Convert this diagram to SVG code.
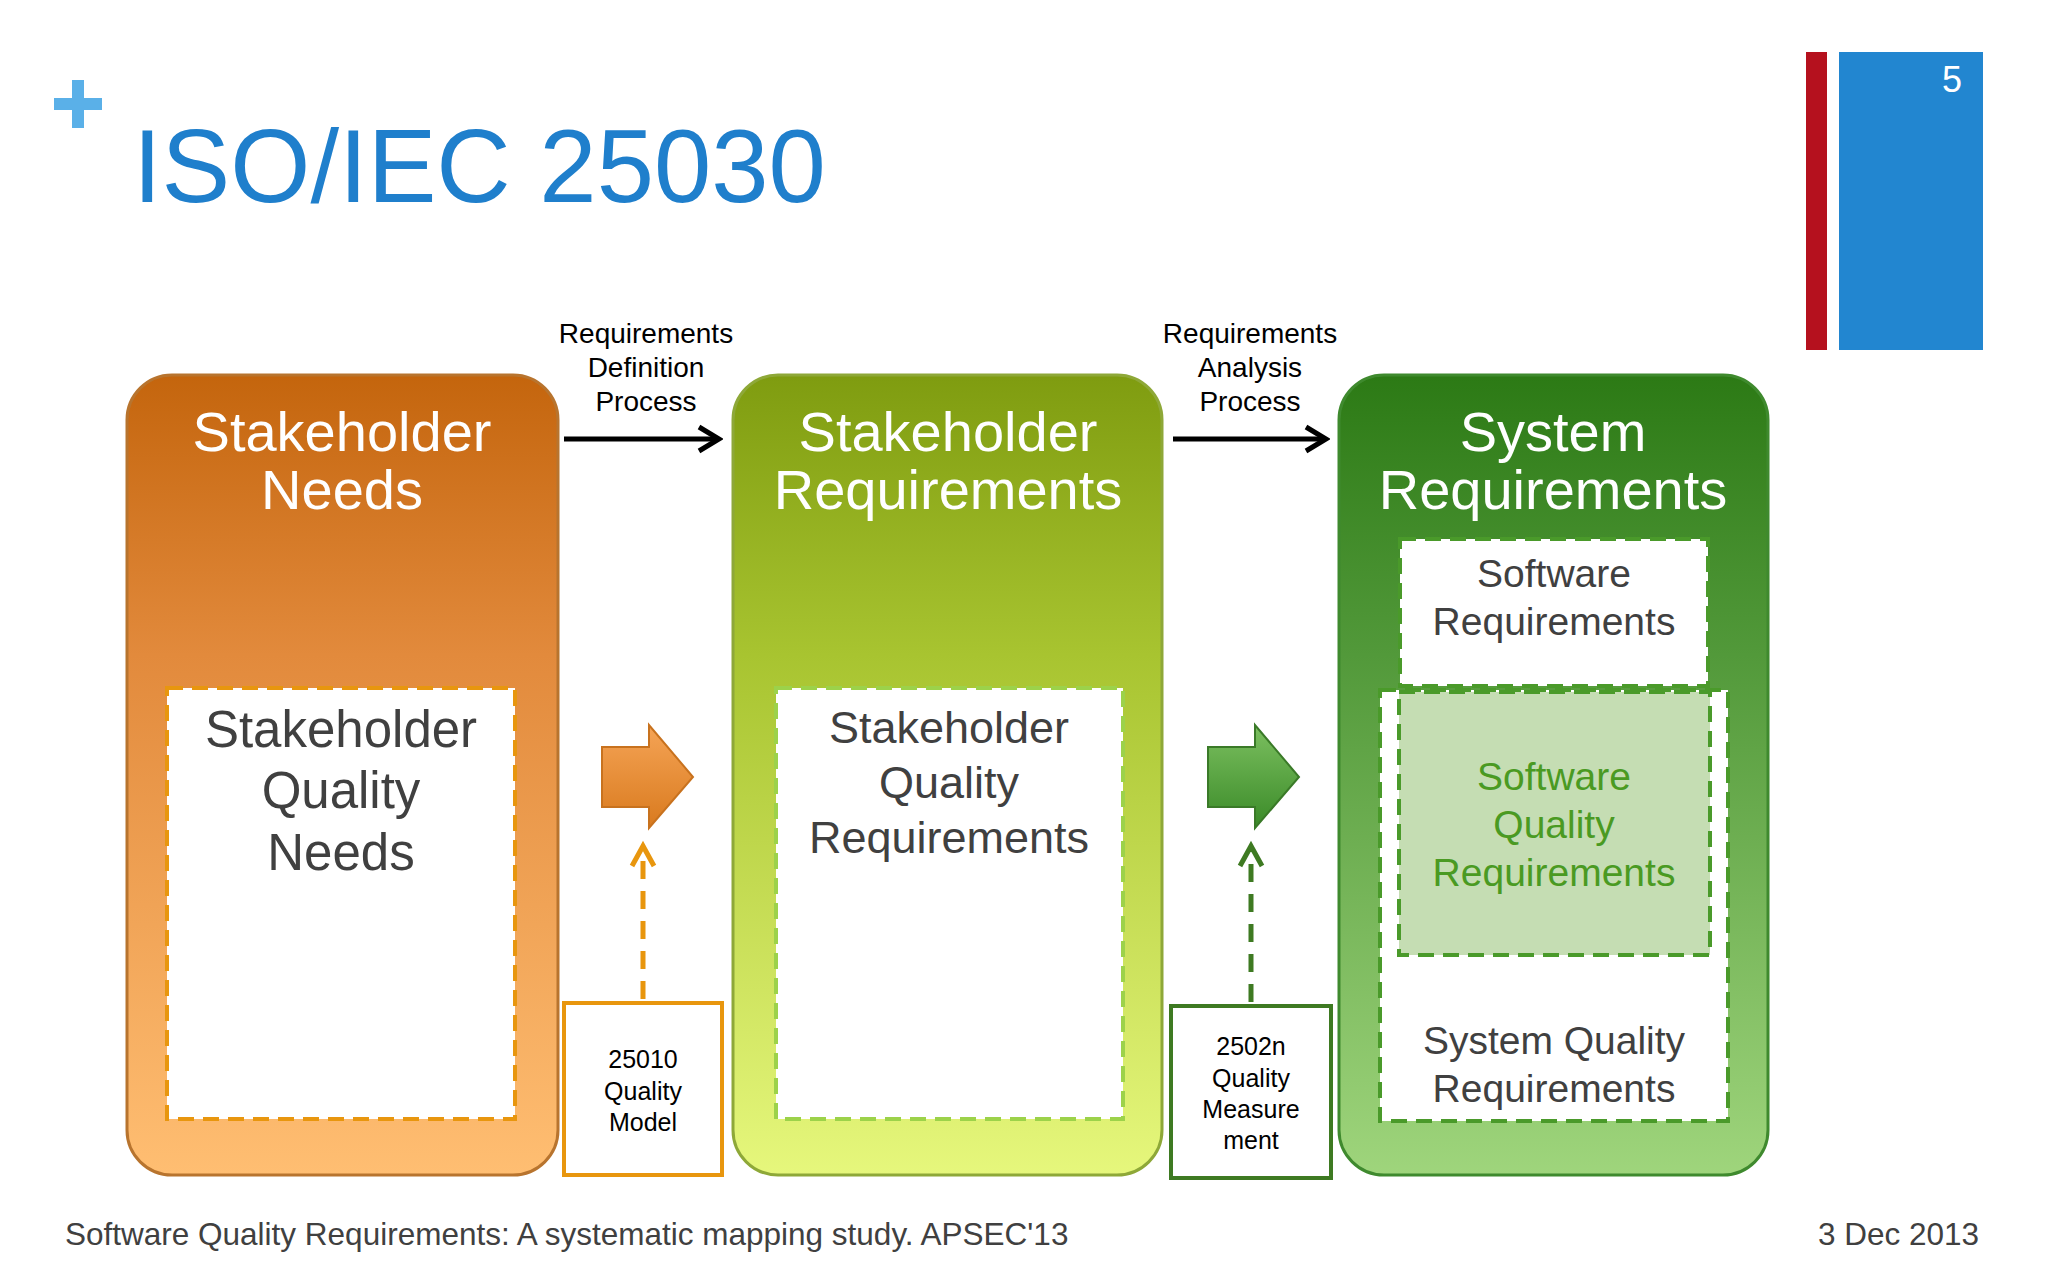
<svg xmlns="http://www.w3.org/2000/svg" width="2048" height="1280" viewBox="0 0 2048 1280">
<style>
text{font-family:"Liberation Sans",Arial,sans-serif}
.big{font-size:56px;fill:#fff;text-anchor:middle}
.in{font-size:51px;fill:#404040;text-anchor:middle}
.s2{font-size:45px}
.s3{font-size:39px}
.sm{font-size:28px;fill:#000;text-anchor:middle}
.bx{font-size:25px;fill:#000;text-anchor:middle}
</style>
<defs>
<linearGradient id="go" x1="0" y1="0" x2="0" y2="1"><stop offset="0" stop-color="#c4650d"/><stop offset="0.35" stop-color="#e28a3c"/><stop offset="1" stop-color="#ffbe72"/></linearGradient>
<linearGradient id="gy" x1="0" y1="0" x2="0" y2="1"><stop offset="0" stop-color="#7f9c10"/><stop offset="0.35" stop-color="#a8c430"/><stop offset="1" stop-color="#e6f77c"/></linearGradient>
<linearGradient id="gg" x1="0" y1="0" x2="0" y2="1"><stop offset="0" stop-color="#2c7a15"/><stop offset="0.35" stop-color="#52993a"/><stop offset="1" stop-color="#9fd57c"/></linearGradient>
<linearGradient id="ao" x1="0" y1="0" x2="0" y2="1"><stop offset="0" stop-color="#f5a456"/><stop offset="1" stop-color="#d97a1e"/></linearGradient>
<linearGradient id="ag" x1="0" y1="0" x2="0" y2="1"><stop offset="0" stop-color="#7cc060"/><stop offset="1" stop-color="#3a8a28"/></linearGradient>
<marker id="ab" viewBox="0 0 30 30" refX="26" refY="15" markerWidth="30" markerHeight="30" markerUnits="userSpaceOnUse" orient="auto"><path d="M6,3 L26,15 L6,27" fill="none" stroke="#000" stroke-width="5"/></marker>
</defs>
<rect width="2048" height="1280" fill="#fff"/>
<g id="header">
<path d="M78,80 V128 M54,104 H102" stroke="#5ab0e8" stroke-width="12"/>
<text x="133" y="202" font-size="103" fill="#1f7fcc">ISO/IEC 25030</text>
<rect x="1806" y="52" width="21" height="298" fill="#b5111e"/>
<rect x="1839" y="52" width="144" height="298" fill="#2286d0"/>
<text x="1952" y="92" font-size="36" fill="#fff" text-anchor="middle">5</text>
</g>
<g id="n1">
<rect x="127" y="375" width="431" height="800" rx="45" fill="url(#go)" stroke="#b8742e" stroke-width="3"/>
<text class="big" x="342" y="451">Stakeholder</text><text class="big" x="342" y="509">Needs</text>
<rect x="167" y="688" width="348" height="431" fill="#fff" stroke="#e8960e" stroke-width="4" stroke-dasharray="16 9"/>
<text class="in" x="341" y="747">Stakeholder</text><text class="in" x="341" y="808">Quality</text><text class="in" x="341" y="870">Needs</text>
</g>
<g id="n2">
<rect x="733" y="375" width="429" height="800" rx="45" fill="url(#gy)" stroke="#8ea838" stroke-width="3"/>
<text class="big" x="948" y="451">Stakeholder</text><text class="big" x="948" y="509">Requirements</text>
<rect x="776" y="688" width="347" height="431" fill="#fff" stroke="#9cd24a" stroke-width="4" stroke-dasharray="16 9"/>
<text class="in s2" x="949" y="743">Stakeholder</text><text class="in s2" x="949" y="798">Quality</text><text class="in s2" x="949" y="853">Requirements</text>
</g>
<g id="n3">
<rect x="1339" y="375" width="429" height="800" rx="45" fill="url(#gg)" stroke="#3f8a2e" stroke-width="3"/>
<text class="big" x="1553" y="451">System</text><text class="big" x="1553" y="509">Requirements</text>
<rect x="1400" y="539" width="308" height="147" fill="#fff" stroke="#4a9a2a" stroke-width="4" stroke-dasharray="16 9"/>
<text class="in s3" x="1554" y="587">Software</text><text class="in s3" x="1554" y="635">Requirements</text>
<rect x="1380" y="690" width="348" height="431" fill="#fff" stroke="#4a9a2a" stroke-width="4" stroke-dasharray="16 9"/>
<rect x="1399" y="692" width="311" height="263" fill="#c5ddb3" stroke="#4a9a2a" stroke-width="4" stroke-dasharray="16 9"/>
<text class="in s3" x="1554" y="790" style="fill:#4a9a22">Software</text><text class="in s3" x="1554" y="838" style="fill:#4a9a22">Quality</text><text class="in s3" x="1554" y="886" style="fill:#4a9a22">Requirements</text>
<text class="in s3" x="1554" y="1054">System Quality</text><text class="in s3" x="1554" y="1102">Requirements</text>
</g>
<g id="n4">
<rect x="564" y="1003" width="158" height="172" fill="#fff" stroke="#e8960e" stroke-width="4"/>
<text class="bx" x="643" y="1068">25010</text><text class="bx" x="643" y="1100">Quality</text><text class="bx" x="643" y="1131">Model</text>
</g>
<g id="n5">
<rect x="1171" y="1006" width="160" height="172" fill="#fff" stroke="#3e7a22" stroke-width="4"/>
<text class="bx" x="1251" y="1055">2502n</text><text class="bx" x="1251" y="1087">Quality</text><text class="bx" x="1251" y="1118">Measure</text><text class="bx" x="1251" y="1149">ment</text>
</g>
<g id="connectors">
<text class="sm" x="646" y="343">Requirements</text><text class="sm" x="646" y="377">Definition</text><text class="sm" x="646" y="411">Process</text>
<text class="sm" x="1250" y="343">Requirements</text><text class="sm" x="1250" y="377">Analysis</text><text class="sm" x="1250" y="411">Process</text>
<line x1="564" y1="439" x2="719" y2="439" stroke="#000" stroke-width="5" marker-end="url(#ab)"/>
<line x1="1173" y1="439" x2="1326" y2="439" stroke="#000" stroke-width="5" marker-end="url(#ab)"/>
<path d="M602,747 H649 V725 L693,777 L649,828 V807 H602 Z" fill="url(#ao)" stroke="#c8721e" stroke-width="2"/>
<path d="M1208,747 H1255 V725 L1299,777 L1255,828 V807 H1208 Z" fill="url(#ag)" stroke="#3a7a28" stroke-width="2"/>
<line x1="643" y1="999" x2="643" y2="848" stroke="#e8960e" stroke-width="5" stroke-dasharray="18 12"/>
<path d="M632,866 L643,846 L654,866" fill="none" stroke="#e8960e" stroke-width="5"/>
<line x1="1251" y1="1002" x2="1251" y2="848" stroke="#3e7a22" stroke-width="5" stroke-dasharray="18 12"/>
<path d="M1240,866 L1251,846 L1262,866" fill="none" stroke="#3e7a22" stroke-width="5"/>
</g>
<g id="footer">
<text x="65" y="1245" font-size="31.5" fill="#404040">Software Quality Requirements: A systematic mapping study. APSEC'13</text>
<text x="1979" y="1245" font-size="31.5" fill="#404040" text-anchor="end">3 Dec 2013</text>
</g>
</svg>
